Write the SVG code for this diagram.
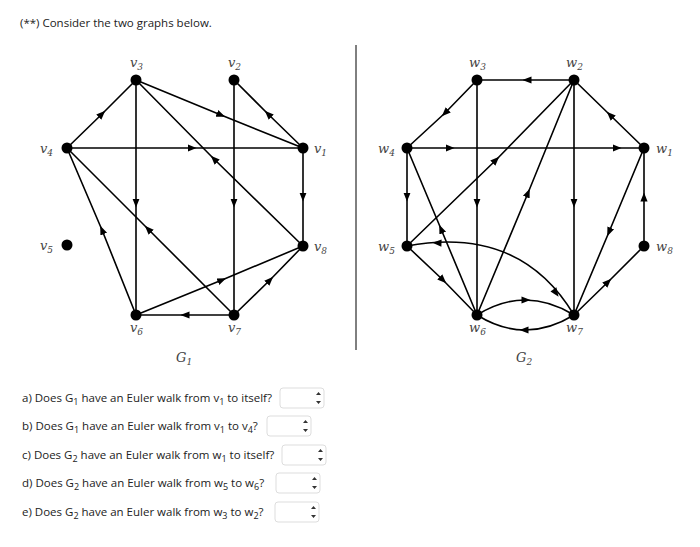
<svg xmlns="http://www.w3.org/2000/svg" width="700" height="547" viewBox="0 0 700 547">
<style>
.e{fill:none;stroke:#000;stroke-width:1.6;marker-mid:url(#a)}
.c{fill:none;stroke:#000;stroke-width:1.6}
.n{fill:#000}
.l{font-family:'DejaVu Serif','Liberation Serif',serif;font-style:italic;font-size:13px;fill:#444}
.s{font-size:9px}
.q{font-family:'Open Sans','Liberation Sans',sans-serif;font-size:11.5px;fill:#222}
.qs{font-size:9px}
.box{fill:#fff;stroke:#ddd;stroke-width:1}
</style>
<defs>
<marker id="a" viewBox="0 0 10 10" refX="5" refY="5" markerWidth="9" markerHeight="9" markerUnits="userSpaceOnUse" orient="auto"><path d="M0,1 L10,5 L0,9 z" fill="#000"/></marker>
<path id="ah" d="M4.5,0 L-4.5,-3.6 L-4.5,3.6 z" fill="#000"/>
<g id="sel"><rect class="box" x="0" y="0" width="44" height="20" rx="3"/><path d="M36,7 l2.5,-3 l2.5,3 z M36,13 l2.5,3 l2.5,-3 z" fill="#333"/></g>
</defs>
<text class="q" x="20" y="27">(**) Consider the two graphs below.</text>
<line x1="356" y1="45" x2="356" y2="350" stroke="#000" stroke-width="1"/>
<g id="connectors">
<path class="e" d="M67,148 L102,114 L136,80"/>
<path class="e" d="M136,80 L221,115 L303,148"/>
<path class="e" d="M303,148 L268,114 L234,80"/>
<path class="e" d="M67,148 L192,148 L303,148"/>
<path class="e" d="M136,80 L136,203 L136,315"/>
<path class="e" d="M234,80 L234,203 L234,315"/>
<path class="e" d="M303,246 L214,159 L136,80"/>
<path class="e" d="M303,148 L303,197 L303,246"/>
<path class="e" d="M234,315 L148,229 L67,148"/>
<path class="e" d="M136,315 L102,230 L67,148"/>
<path class="e" d="M136,315 L222,280 L303,246"/>
<path class="e" d="M234,315 L270,280 L303,246"/>
<path class="e" d="M234,315 L185,315 L136,315"/>
<path class="e" d="M574,80 L527,80 L477,80"/>
<path class="e" d="M477,80 L445,113 L407,148"/>
<path class="e" d="M644,148 L610,115 L574,80"/>
<path class="e" d="M407,148 L450,148 L617,148 L644,148"/>
<path class="e" d="M477,80 L477,203 L477,315"/>
<path class="e" d="M574,80 L574,203 L574,315"/>
<path class="e" d="M407,148 L407,197 L407,246"/>
<path class="e" d="M477,315 L441,229 L407,148"/>
<path class="e" d="M407,246 L496,160 L574,80"/>
<path class="e" d="M477,315 L528,193 L574,80"/>
<path class="e" d="M644,148 L609,232 L574,315"/>
<path class="e" d="M644,246 L644,197 L644,148"/>
<path class="e" d="M407,246 L443,280 L477,315"/>
<path class="e" d="M574,315 L608,282 L644,246"/>
<path class="c" d="M574,315 Q520,225 407,246"/>
<path class="c" d="M477,315 Q525,285 574,315"/>
<path class="c" d="M574,315 Q525,345 477,315"/>
<use href="#ah" transform="translate(437,243) rotate(182)"/>
<use href="#ah" transform="translate(556,293) rotate(55)"/>
<use href="#ah" transform="translate(526,300) rotate(0)"/>
<use href="#ah" transform="translate(524,330) rotate(180)"/>
</g>
<g id="v1"><circle class="n" cx="303" cy="148" r="5.5"/><text class="l" x="314" y="153">v<tspan class="s" dy="3">1</tspan></text></g>
<g id="v2"><circle class="n" cx="234" cy="80" r="5.5"/><text class="l" x="228" y="67">v<tspan class="s" dy="3">2</tspan></text></g>
<g id="v3"><circle class="n" cx="136" cy="80" r="5.5"/><text class="l" x="130" y="67">v<tspan class="s" dy="3">3</tspan></text></g>
<g id="v4"><circle class="n" cx="67" cy="148" r="5.5"/><text class="l" x="40" y="153">v<tspan class="s" dy="3">4</tspan></text></g>
<g id="v5"><circle class="n" cx="67" cy="245" r="5.5"/><text class="l" x="40" y="250">v<tspan class="s" dy="3">5</tspan></text></g>
<g id="v6"><circle class="n" cx="136" cy="315" r="5.5"/><text class="l" x="130" y="332">v<tspan class="s" dy="3">6</tspan></text></g>
<g id="v7"><circle class="n" cx="234" cy="315" r="5.5"/><text class="l" x="228" y="332">v<tspan class="s" dy="3">7</tspan></text></g>
<g id="v8"><circle class="n" cx="303" cy="246" r="5.5"/><text class="l" x="314" y="251">v<tspan class="s" dy="3">8</tspan></text></g>
<g id="w1"><circle class="n" cx="644" cy="148" r="5.5"/><text class="l" x="656" y="153">w<tspan class="s" dy="3">1</tspan></text></g>
<g id="w2"><circle class="n" cx="574" cy="80" r="5.5"/><text class="l" x="566" y="67">w<tspan class="s" dy="3">2</tspan></text></g>
<g id="w3"><circle class="n" cx="477" cy="80" r="5.5"/><text class="l" x="469" y="67">w<tspan class="s" dy="3">3</tspan></text></g>
<g id="w4"><circle class="n" cx="407" cy="148" r="5.5"/><text class="l" x="378" y="153">w<tspan class="s" dy="3">4</tspan></text></g>
<g id="w5"><circle class="n" cx="407" cy="246" r="5.5"/><text class="l" x="378" y="251">w<tspan class="s" dy="3">5</tspan></text></g>
<g id="w6"><circle class="n" cx="477" cy="315" r="5.5"/><text class="l" x="469" y="332">w<tspan class="s" dy="3">6</tspan></text></g>
<g id="w7"><circle class="n" cx="574" cy="315" r="5.5"/><text class="l" x="566" y="332">w<tspan class="s" dy="3">7</tspan></text></g>
<g id="w8"><circle class="n" cx="644" cy="246" r="5.5"/><text class="l" x="656" y="251">w<tspan class="s" dy="3">8</tspan></text></g>
<text class="l" x="176" y="362">G<tspan class="s" dy="3">1</tspan></text>
<text class="l" x="516" y="362">G<tspan class="s" dy="3">2</tspan></text>
<text class="q" x="22" y="402">a) Does G<tspan class="qs" dy="3">1</tspan><tspan dy="-3"> have an Euler walk from v</tspan><tspan class="qs" dy="3">1</tspan><tspan dy="-3"> to itself?</tspan></text>
<use href="#sel" x="280" y="388"/>
<text class="q" x="22" y="430">b) Does G<tspan class="qs" dy="3">1</tspan><tspan dy="-3"> have an Euler walk from v</tspan><tspan class="qs" dy="3">1</tspan><tspan dy="-3"> to v</tspan><tspan class="qs" dy="3">4</tspan><tspan dy="-3">?</tspan></text>
<use href="#sel" x="267" y="416"/>
<text class="q" x="22" y="459">c) Does G<tspan class="qs" dy="3">2</tspan><tspan dy="-3"> have an Euler walk from w</tspan><tspan class="qs" dy="3">1</tspan><tspan dy="-3"> to itself?</tspan></text>
<use href="#sel" x="282" y="445"/>
<text class="q" x="22" y="487">d) Does G<tspan class="qs" dy="3">2</tspan><tspan dy="-3"> have an Euler walk from w</tspan><tspan class="qs" dy="3">5</tspan><tspan dy="-3"> to w</tspan><tspan class="qs" dy="3">6</tspan><tspan dy="-3">?</tspan></text>
<use href="#sel" x="276" y="473"/>
<text class="q" x="22" y="516">e) Does G<tspan class="qs" dy="3">2</tspan><tspan dy="-3"> have an Euler walk from w</tspan><tspan class="qs" dy="3">3</tspan><tspan dy="-3"> to w</tspan><tspan class="qs" dy="3">2</tspan><tspan dy="-3">?</tspan></text>
<use href="#sel" x="275" y="502"/>
</svg>
